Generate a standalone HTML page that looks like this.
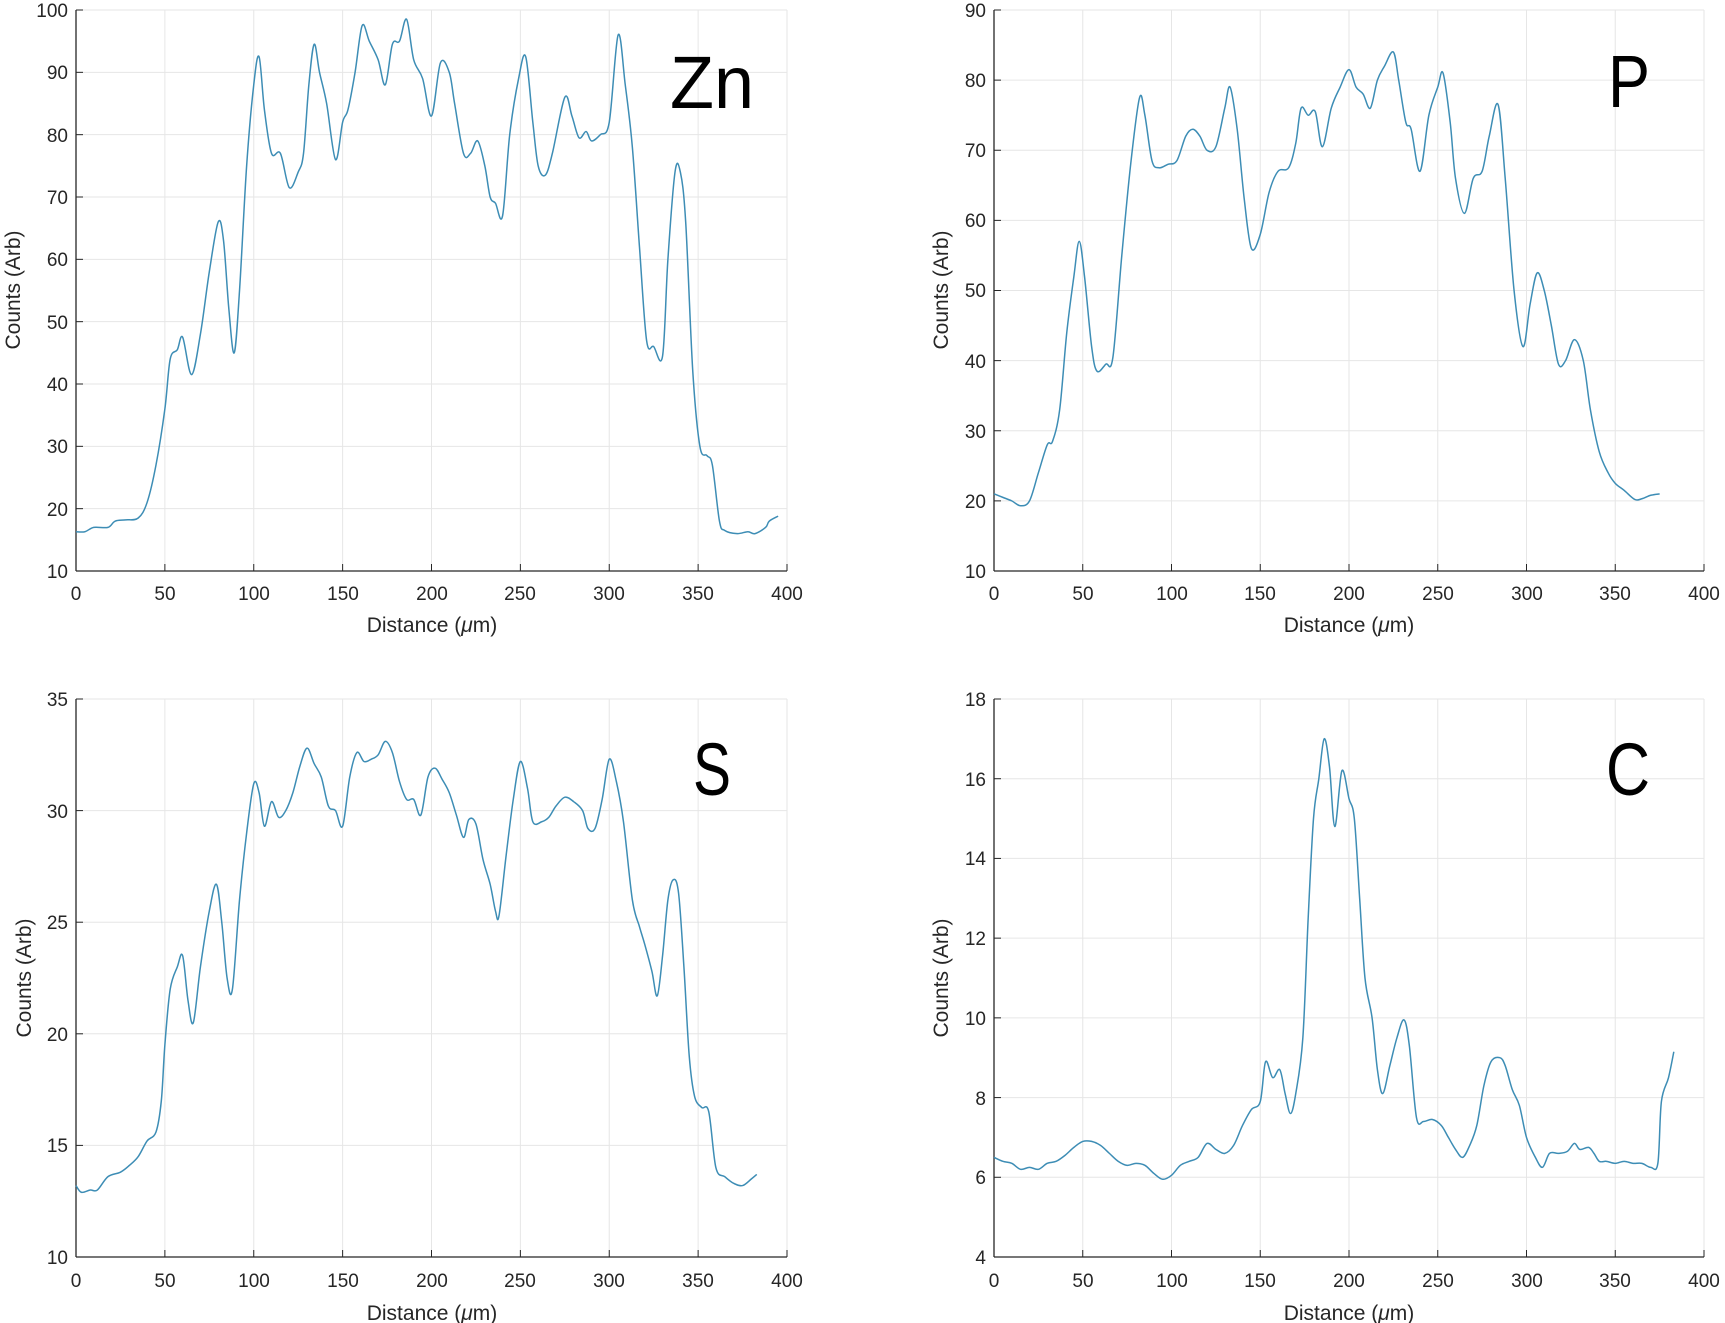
<!DOCTYPE html>
<html><head><meta charset="utf-8"><style>
html,body{margin:0;padding:0;background:#fff}
svg{display:block}
text{font-family:"Liberation Sans",sans-serif;fill:#262626}
.t{font-size:19px}
.yl{font-size:21px}
.big{font-family:"Liberation Sans",sans-serif;font-size:74px;fill:#000}
</style></head><body>
<svg id="s" width="1725" height="1323" xmlns="http://www.w3.org/2000/svg">
<g id="grids"></g>
<g id="lines" fill="none" stroke="#3d8db5" stroke-width="1.5"></g>
<g class="t" text-anchor="middle">
<text x="76" y="600">0</text><text x="165" y="600">50</text><text x="254" y="600">100</text><text x="343" y="600">150</text><text x="432" y="600">200</text><text x="520" y="600">250</text><text x="609" y="600">300</text><text x="698" y="600">350</text><text x="787" y="600">400</text>
<text x="994" y="600">0</text><text x="1083" y="600">50</text><text x="1172" y="600">100</text><text x="1260" y="600">150</text><text x="1349" y="600">200</text><text x="1438" y="600">250</text><text x="1527" y="600">300</text><text x="1615" y="600">350</text><text x="1704" y="600">400</text>
<text x="76" y="1287">0</text><text x="165" y="1287">50</text><text x="254" y="1287">100</text><text x="343" y="1287">150</text><text x="432" y="1287">200</text><text x="520" y="1287">250</text><text x="609" y="1287">300</text><text x="698" y="1287">350</text><text x="787" y="1287">400</text>
<text x="994" y="1287">0</text><text x="1083" y="1287">50</text><text x="1172" y="1287">100</text><text x="1260" y="1287">150</text><text x="1349" y="1287">200</text><text x="1438" y="1287">250</text><text x="1527" y="1287">300</text><text x="1615" y="1287">350</text><text x="1704" y="1287">400</text>
</g>
<g class="t" text-anchor="end">
<text x="68" y="578">10</text><text x="68" y="516">20</text><text x="68" y="453">30</text><text x="68" y="391">40</text><text x="68" y="329">50</text><text x="68" y="266">60</text><text x="68" y="204">70</text><text x="68" y="142">80</text><text x="68" y="79">90</text><text x="68" y="17">100</text>
<text x="986" y="578">10</text><text x="986" y="508">20</text><text x="986" y="438">30</text><text x="986" y="368">40</text><text x="986" y="297">50</text><text x="986" y="227">60</text><text x="986" y="157">70</text><text x="986" y="87">80</text><text x="986" y="17">90</text>
<text x="68" y="1264">10</text><text x="68" y="1152">15</text><text x="68" y="1041">20</text><text x="68" y="929">25</text><text x="68" y="818">30</text><text x="68" y="706">35</text>
<text x="986" y="1264">4</text><text x="986" y="1184">6</text><text x="986" y="1105">8</text><text x="986" y="1025">10</text><text x="986" y="945">12</text><text x="986" y="865">14</text><text x="986" y="786">16</text><text x="986" y="706">18</text>
</g>
<g class="yl" text-anchor="middle">
<text x="432" y="632">Distance (<tspan font-style="italic">μ</tspan>m)</text>
<text x="1349" y="632">Distance (<tspan font-style="italic">μ</tspan>m)</text>
<text x="432" y="1320">Distance (<tspan font-style="italic">μ</tspan>m)</text>
<text x="1349" y="1320">Distance (<tspan font-style="italic">μ</tspan>m)</text>
<text transform="translate(20,290) rotate(-90)">Counts (Arb)</text>
<text transform="translate(948,290) rotate(-90)">Counts (Arb)</text>
<text transform="translate(31,978) rotate(-90)">Counts (Arb)</text>
<text transform="translate(948,978) rotate(-90)">Counts (Arb)</text>
</g>
<text class="big" x="670" y="108" textLength="84" lengthAdjust="spacingAndGlyphs">Zn</text>
<text class="big" x="1608" y="107" textLength="42" lengthAdjust="spacingAndGlyphs">P</text>
<text class="big" x="693" y="795" textLength="38" lengthAdjust="spacingAndGlyphs">S</text>
<text class="big" x="1606" y="795" textLength="44" lengthAdjust="spacingAndGlyphs">C</text>
</svg>
<script>
var P=[
{L:76,R:787,T:10,B:571,y0:10,y1:100,st:10,d:[[0,16.3],[5,16.3],[10,17],[18,17],[22,18],[28,18.2],[35,18.5],[40,21],[45,27],[50,36],[53,44],[57,45.5],[60,47.5],[65,41.5],[70,48],[75,58],[80,66],[83,63],[86,52],[89,45],[92,55],[96,75],[100,88],[103,92.5],[106,84],[110,77],[115,77],[120,71.5],[125,74],[128,77],[131,88],[134,94.5],[137,90],[141,85],[146,76],[150,82],[153,84],[157,90],[161,97.5],[165,95],[170,92],[174,88],[178,94.5],[182,95],[186,98.5],[190,92],[195,89],[200,83],[205,91.5],[210,90],[213,85],[218,77],[222,77],[226,79],[230,75],[233,70],[236,69],[240,67],[244,80],[249,89],[253,92.5],[257,82],[260,75],[264,73.5],[268,77],[275,86],[279,83],[283,79.5],[287,80.5],[290,79],[295,80],[300,82],[305,96],[309,88],[313,78],[317,62],[321,47],[325,46],[330,44.5],[333,60],[337,74],[340,74],[343,66],[347,42],[351,30],[355,28.5],[358,27],[362,18],[365,16.5],[372,16],[378,16.3],[382,16],[388,17],[390,18],[395,18.8]]},
{L:994,R:1704,T:10,B:571,y0:10,y1:90,st:10,d:[[0,21],[5,20.5],[10,20],[15,19.3],[20,20],[25,24],[30,28],[33,28.5],[37,33],[41,44],[45,52],[48,57],[51,52],[55,42],[58,38.5],[63,39.5],[67,40.5],[72,55],[77,68],[82,77.5],[85,75],[89,68.5],[93,67.5],[98,68],[103,68.5],[108,72],[112,73],[116,72],[120,70],[125,70.5],[130,76],[133,79],[137,73],[141,63],[145,56],[150,58],[155,64],[160,67],[166,67.5],[170,71],[173,76],[177,75],[181,75.5],[185,70.5],[190,76],[195,79],[200,81.5],[204,79],[208,78],[212,76],[216,80],[220,82],[225,84],[228,80],[232,74],[235,73],[240,67],[245,75],[250,79],[253,81],[257,74],[260,66],[265,61],[270,66],[275,67],[279,72],[284,76.5],[288,66],[293,50],[298,42],[302,48],[306,52.5],[310,50],[314,45],[318,39.5],[322,40],[327,43],[332,40],[336,33],[341,27],[346,24],[350,22.5],[355,21.5],[361,20.2],[365,20.3],[370,20.8],[375,21]]},
{L:76,R:787,T:699,B:1257,y0:10,y1:35,st:5,d:[[0,13.2],[3,12.9],[8,13],[12,13],[18,13.6],[25,13.8],[30,14.1],[35,14.5],[40,15.2],[45,15.6],[48,17],[50,19.5],[53,22],[57,23],[60,23.5],[63,21.5],[66,20.5],[70,23],[75,25.5],[79,26.7],[82,25],[85,22.5],[88,22],[92,26],[96,29],[100,31.2],[103,30.8],[106,29.3],[110,30.4],[114,29.7],[118,30],[122,30.8],[126,32],[130,32.8],[134,32.1],[138,31.5],[142,30.2],[146,30],[150,29.3],[154,31.5],[158,32.6],[162,32.2],[166,32.3],[170,32.5],[174,33.1],[178,32.6],[182,31.3],[186,30.5],[190,30.5],[194,29.8],[198,31.5],[202,31.9],[206,31.4],[210,30.8],[214,29.8],[218,28.8],[221,29.6],[225,29.4],[229,27.8],[233,26.7],[236,25.5],[238,25.3],[242,28],[246,30.5],[250,32.2],[254,31],[257,29.5],[262,29.5],[266,29.7],[270,30.2],[275,30.6],[280,30.4],[285,30],[288,29.2],[292,29.2],[296,30.5],[300,32.3],[304,31.3],[308,29.5],[313,26],[317,24.8],[320,24],[324,22.8],[327,21.7],[330,23.5],[333,26],[336,26.9],[339,26.3],[342,23],[345,19],[348,17.2],[352,16.7],[356,16.5],[360,14],[365,13.6],[370,13.3],[375,13.2],[380,13.5],[383,13.7]]},
{L:994,R:1704,T:699,B:1257,y0:4,y1:18,st:2,d:[[0,6.5],[5,6.4],[10,6.35],[15,6.2],[20,6.25],[25,6.2],[30,6.35],[35,6.4],[40,6.55],[45,6.75],[50,6.9],[55,6.9],[60,6.8],[65,6.6],[70,6.4],[75,6.3],[80,6.35],[85,6.3],[90,6.1],[95,5.95],[100,6.05],[105,6.3],[110,6.4],[115,6.5],[120,6.85],[125,6.7],[130,6.6],[135,6.8],[140,7.3],[145,7.7],[150,7.9],[153,8.9],[157,8.5],[161,8.7],[164,8.1],[167,7.6],[170,8.1],[174,9.5],[177,12.5],[180,15],[183,16],[186,17],[189,16.3],[192,14.8],[196,16.2],[200,15.5],[203,15],[206,13],[209,11],[213,10],[216,8.7],[219,8.1],[223,8.8],[227,9.5],[231,9.95],[234,9.3],[238,7.5],[242,7.4],[247,7.45],[252,7.3],[256,7],[260,6.7],[264,6.5],[268,6.8],[272,7.3],[276,8.3],[280,8.9],[285,9],[288,8.8],[292,8.2],[296,7.8],[300,7],[305,6.5],[309,6.25],[313,6.6],[318,6.6],[323,6.65],[327,6.85],[330,6.7],[335,6.75],[338,6.6],[341,6.4],[345,6.4],[350,6.35],[355,6.4],[360,6.35],[365,6.35],[370,6.25],[374,6.35],[376,7.9],[380,8.5],[383,9.15]]}];
var g='',l='';
P.forEach(function(p){
 var sx=function(x){return p.L+x*(p.R-p.L)/400},sy=function(y){return p.B-(y-p.y0)*(p.B-p.T)/(p.y1-p.y0)};
 for(var i=0;i<=8;i++){var x=sx(i*50);g+='<line x1="'+x+'" y1="'+p.T+'" x2="'+x+'" y2="'+p.B+'" stroke="#e6e6e6"/>';g+='<line x1="'+x+'" y1="'+p.B+'" x2="'+x+'" y2="'+(p.B-7)+'" stroke="#262626"/>';}
 for(var y=p.y0;y<=p.y1+1e-9;y+=p.st){var Y=sy(y);g+='<line x1="'+p.L+'" y1="'+Y+'" x2="'+p.R+'" y2="'+Y+'" stroke="#e6e6e6"/>';g+='<line x1="'+p.L+'" y1="'+Y+'" x2="'+(p.L+7)+'" y2="'+Y+'" stroke="#262626"/>';}
 g+='<line x1="'+p.L+'" y1="'+p.T+'" x2="'+p.L+'" y2="'+p.B+'" stroke="#262626" stroke-width="1.3"/><line x1="'+p.L+'" y1="'+p.B+'" x2="'+p.R+'" y2="'+p.B+'" stroke="#262626" stroke-width="1.3"/>';
 var pts=p.d.map(function(a){return [sx(a[0]),sy(a[1])]});
 var s='M'+pts[0][0]+','+pts[0][1];
 for(var k=0;k<pts.length-1;k++){var p0=pts[Math.max(k-1,0)],p1=pts[k],p2=pts[k+1],p3=pts[Math.min(k+2,pts.length-1)];
  s+=' C'+(p1[0]+(p2[0]-p0[0])/6)+','+(p1[1]+(p2[1]-p0[1])/6)+' '+(p2[0]-(p3[0]-p1[0])/6)+','+(p2[1]-(p3[1]-p1[1])/6)+' '+p2[0]+','+p2[1];}
 l+='<path d="'+s+'"/>';
});
document.getElementById('grids').innerHTML=g;
document.getElementById('lines').innerHTML=l;
</script>
</body></html>
